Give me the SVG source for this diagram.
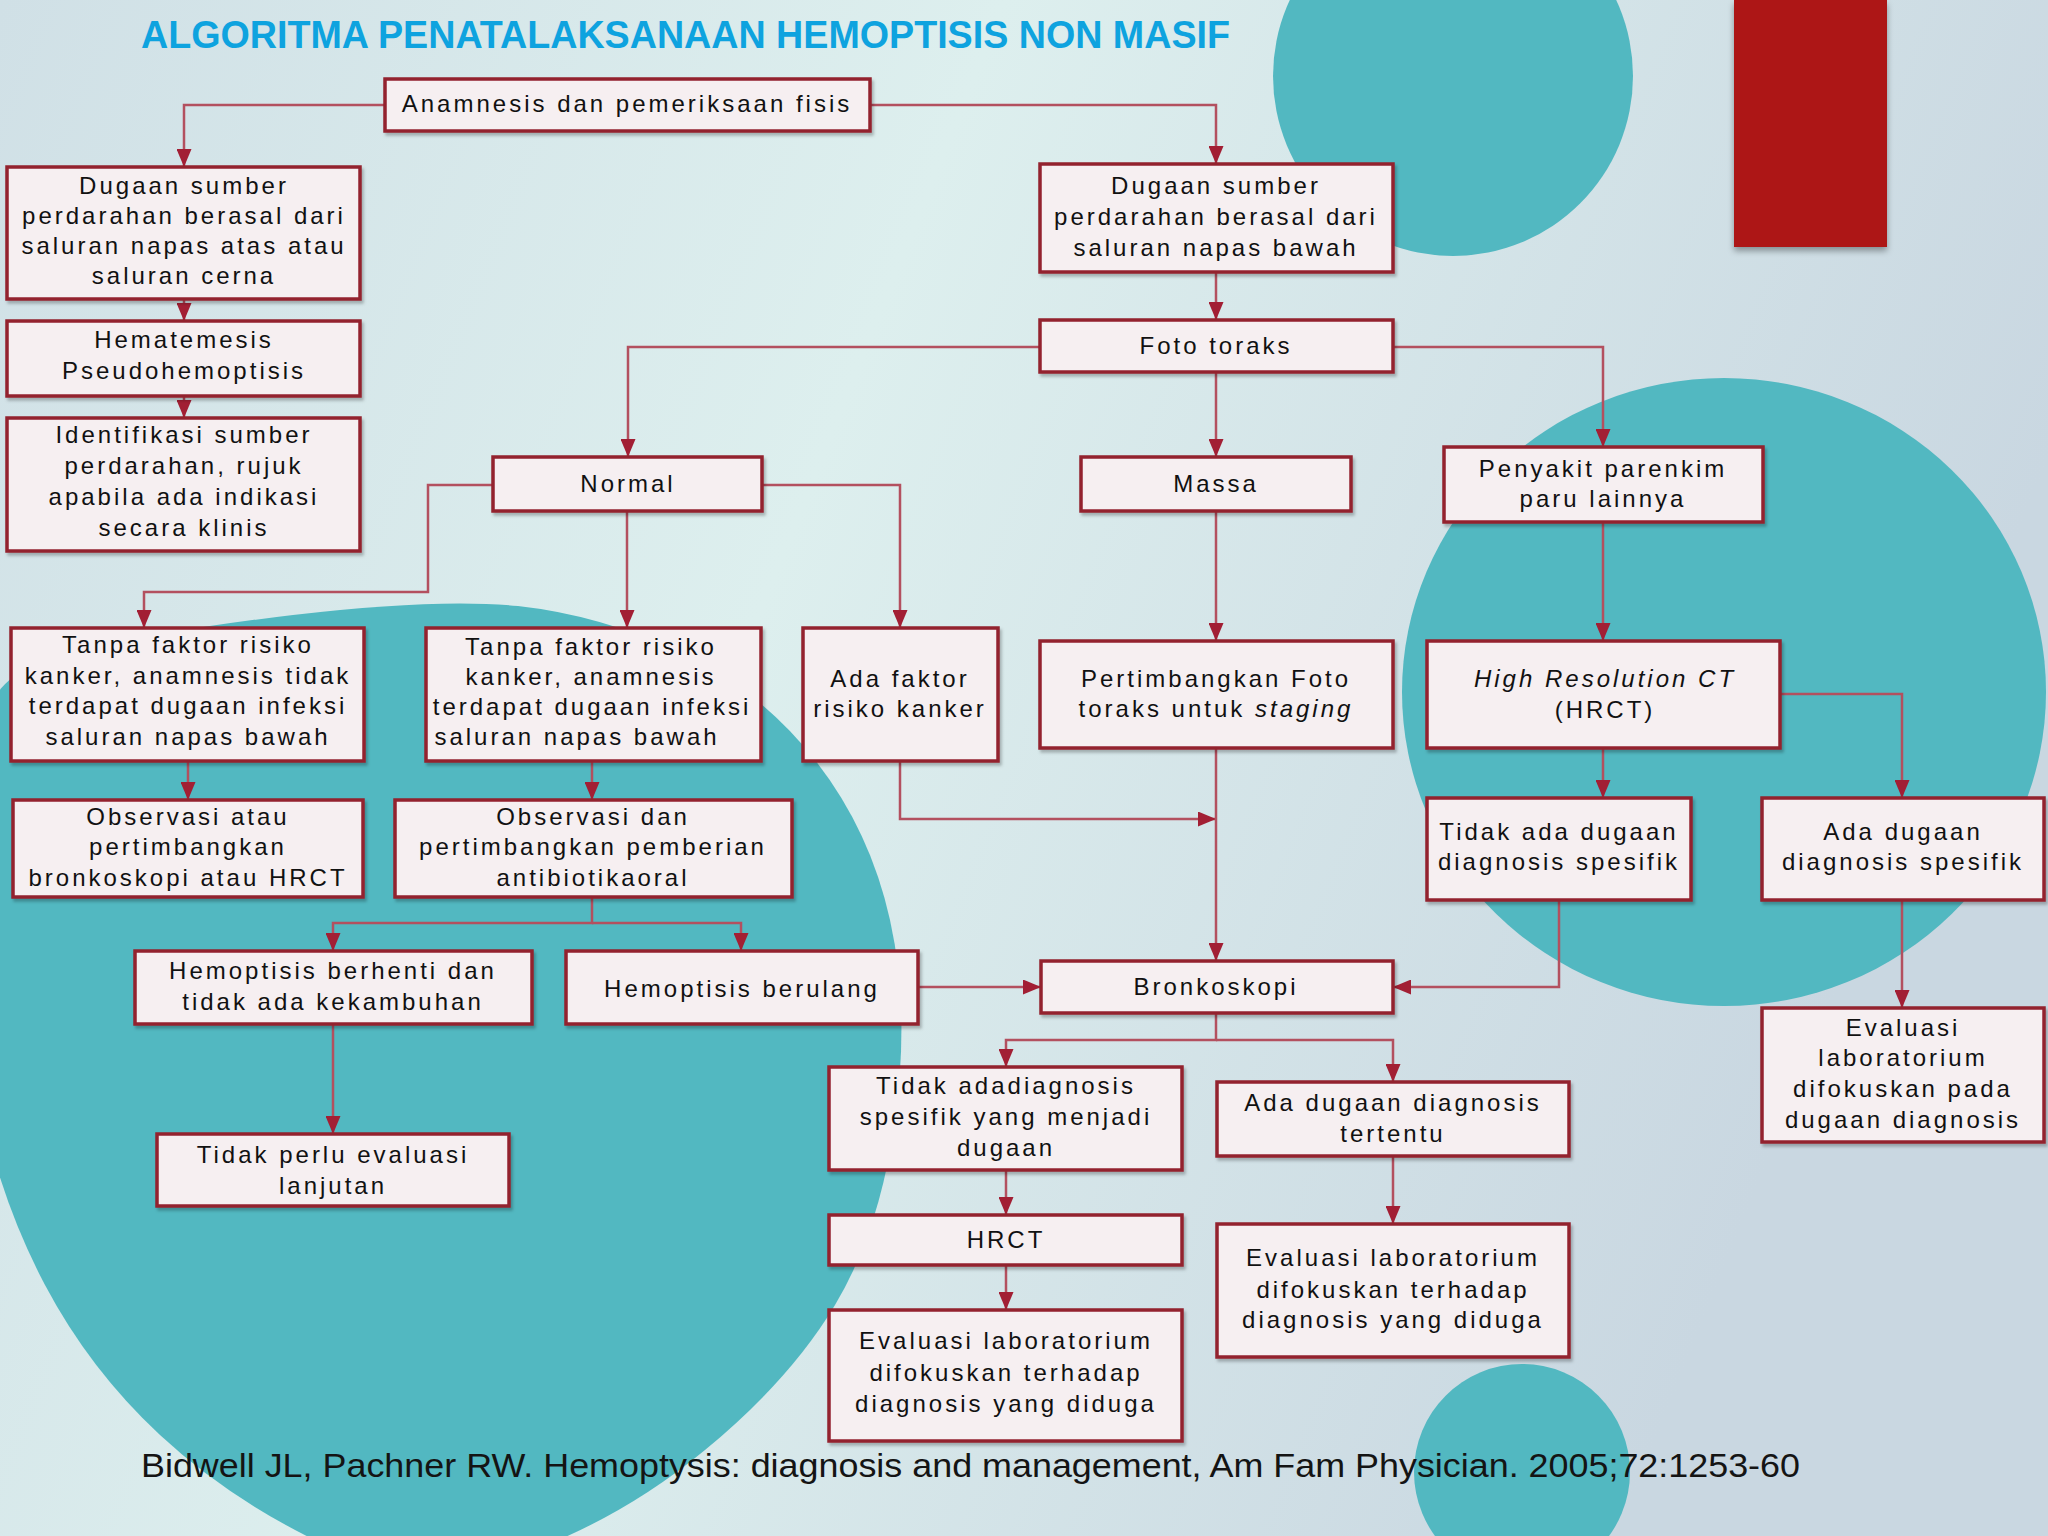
<svg xmlns="http://www.w3.org/2000/svg" width="2048" height="1536" viewBox="0 0 2048 1536">
<defs>
<linearGradient id="bg" x1="0" y1="0" x2="1" y2="0.3">
<stop offset="0" stop-color="#d0e0e6"/>
<stop offset="0.45" stop-color="#ddefee"/>
<stop offset="1" stop-color="#c9d7e1"/>
</linearGradient>
<filter id="sh" x="-5%" y="-10%" width="115%" height="130%">
<feDropShadow dx="2" dy="3" stdDeviation="1.5" flood-color="#000" flood-opacity="0.25"/>
</filter>
<filter id="sh2" x="-10%" y="-10%" width="130%" height="120%">
<feDropShadow dx="0" dy="4" stdDeviation="3" flood-color="#000" flood-opacity="0.35"/>
</filter>
<marker id="ah" viewBox="0 0 18 15" refX="18" refY="7.5" markerWidth="18" markerHeight="15" markerUnits="userSpaceOnUse" orient="auto">
<path d="M0,0 L18,7.5 L0,15 z" fill="#a21f34"/>
</marker>
<style>
.box rect{fill:#f6eff1;stroke:#93202f;stroke-width:3.5;filter:url(#sh)}
.box text{font-family:"Liberation Sans",Arial,sans-serif;font-size:24px;letter-spacing:3px;fill:#111;text-anchor:middle}
.c path{fill:none;stroke:#b3505f;stroke-width:2.5;marker-end:url(#ah)}
.c path.na{marker-end:none}
.deco{fill:#52b8c1}
</style>
</defs>
<rect x="0" y="0" width="2048" height="1536" fill="url(#bg)"/>
<g id="decor">
<circle class="deco" cx="1453" cy="76" r="180"/>
<ellipse class="deco" cx="1724" cy="692" rx="322" ry="314"/>
<circle class="deco" cx="1522" cy="1472" r="108"/>
<path class="deco" d="M55,656 Q150,632 293,615 Q437,598 518,606 Q600,615 680,652 Q760,690 815,760 Q870,830 890,920 Q910,1010 895,1120 Q880,1230 835,1305 Q790,1380 705,1450 Q620,1520 520,1555 Q420,1590 325,1545 Q230,1500 160,1435 Q90,1370 45,1285 Q0,1200 -20,1100 Q-40,1000 -40,840 Q-40,680 55,656 Z"/>
<rect x="1734" y="0" width="153" height="247" fill="#ad1414" filter="url(#sh2)"/>
</g>
<text x="141" y="48" font-family="'Liberation Sans',Arial,sans-serif" font-weight="bold" font-size="39" fill="#0ea3df" textLength="1089" lengthAdjust="spacingAndGlyphs">ALGORITMA PENATALAKSANAAN HEMOPTISIS NON MASIF</text>
<g id="connectors" class="c">
<path d="M385,105 H184 V167"/>
<path d="M870,105 H1216 V164"/>
<path d="M184,299 V321"/>
<path d="M184,396 V418"/>
<path d="M1216,272 V320"/>
<path d="M1040,347 H628 V457"/>
<path d="M1216,372 V457"/>
<path d="M1393,347 H1603 V447"/>
<path d="M493,485 H428 V592 H144 V628"/>
<path d="M627,511 V628"/>
<path d="M762,485 H900 V628"/>
<path d="M188,761 V800"/>
<path d="M592,761 V800"/>
<path d="M900,761 V819 H1216"/>
<path d="M1216,511 V641"/>
<path d="M1216,748 V961"/>
<path d="M1603,522 V641"/>
<path d="M1603,748 V798"/>
<path d="M1780,694 H1902 V798"/>
<path d="M592,897 V923 H333 V951"/>
<path d="M592,923 H741 V951"/>
<path d="M333,1024 V1134"/>
<path d="M918,987 H1041"/>
<path d="M1559,900 V987 H1393"/>
<path d="M1902,900 V1008"/>
<path d="M1216,1013 V1040 H1006 V1067"/>
<path d="M1216,1040 H1393 V1082"/>
<path d="M1006,1170 V1215"/>
<path d="M1006,1265 V1310"/>
<path d="M1393,1156 V1224"/>
</g>
<g id="n1" class="box"><rect x="385" y="79" width="485" height="52"/><text x="627" y="112">Anamnesis dan pemeriksaan fisis</text></g>
<g id="n2" class="box"><rect x="7" y="167" width="353" height="132"/><text x="184" y="194">Dugaan sumber</text><text x="184" y="224">perdarahan berasal dari</text><text x="184" y="254">saluran napas atas atau</text><text x="184" y="284">saluran cerna</text></g>
<g id="n3" class="box"><rect x="7" y="321" width="353" height="75"/><text x="184" y="348">Hematemesis</text><text x="184" y="379">Pseudohemoptisis</text></g>
<g id="n4" class="box"><rect x="7" y="418" width="353" height="133"/><text x="184" y="443">Identifikasi sumber</text><text x="184" y="474">perdarahan, rujuk</text><text x="184" y="505">apabila ada indikasi</text><text x="184" y="536">secara klinis</text></g>
<g id="n5" class="box"><rect x="1040" y="164" width="353" height="108"/><text x="1216" y="194">Dugaan sumber</text><text x="1216" y="225">perdarahan berasal dari</text><text x="1216" y="256">saluran napas bawah</text></g>
<g id="n6" class="box"><rect x="1040" y="320" width="353" height="52"/><text x="1216" y="354">Foto toraks</text></g>
<g id="n7" class="box"><rect x="493" y="457" width="269" height="54"/><text x="628" y="492">Normal</text></g>
<g id="n8" class="box"><rect x="1081" y="457" width="270" height="54"/><text x="1216" y="492">Massa</text></g>
<g id="n9" class="box"><rect x="1444" y="447" width="319" height="75"/><text x="1603" y="477">Penyakit parenkim</text><text x="1603" y="507">paru lainnya</text></g>
<g id="n10" class="box"><rect x="11" y="628" width="353" height="133"/><text x="188" y="653">Tanpa faktor risiko</text><text x="188" y="684">kanker, anamnesis tidak</text><text x="188" y="714">terdapat dugaan infeksi</text><text x="188" y="745">saluran napas bawah</text></g>
<g id="n11" class="box"><rect x="426" y="628" width="335" height="133"/><text x="591" y="655">Tanpa faktor risiko</text><text x="591" y="685">kanker, anamnesis</text><text x="592" y="715">terdapat dugaan infeksi</text><text x="577" y="745">saluran napas bawah</text></g>
<g id="n12" class="box"><rect x="803" y="628" width="195" height="133"/><text x="900" y="687">Ada faktor</text><text x="900" y="717">risiko kanker</text></g>
<g id="n13" class="box"><rect x="1040" y="641" width="353" height="107"/><text x="1216" y="687">Pertimbangkan Foto</text><text x="1216" y="717">toraks untuk <tspan font-style="italic">staging</tspan></text></g>
<g id="n14" class="box"><rect x="1427" y="641" width="353" height="107"/><text x="1605" y="687" font-style="italic">High Resolution CT</text><text x="1605" y="718">(HRCT)</text></g>
<g id="n15" class="box"><rect x="1427" y="798" width="264" height="102"/><text x="1559" y="840">Tidak ada dugaan</text><text x="1559" y="870">diagnosis spesifik</text></g>
<g id="n16" class="box"><rect x="1762" y="798" width="282" height="102"/><text x="1903" y="840">Ada dugaan</text><text x="1903" y="870">diagnosis spesifik</text></g>
<g id="n17" class="box"><rect x="13" y="800" width="350" height="97"/><text x="188" y="825">Observasi atau</text><text x="188" y="855">pertimbangkan</text><text x="188" y="886">bronkoskopi atau HRCT</text></g>
<g id="n18" class="box"><rect x="395" y="800" width="397" height="97"/><text x="593" y="825">Observasi dan</text><text x="593" y="855">pertimbangkan pemberian</text><text x="593" y="886">antibiotikaoral</text></g>
<g id="n19" class="box"><rect x="135" y="951" width="397" height="73"/><text x="333" y="979">Hemoptisis berhenti dan</text><text x="333" y="1010">tidak ada kekambuhan</text></g>
<g id="n20" class="box"><rect x="566" y="951" width="352" height="73"/><text x="742" y="997">Hemoptisis berulang</text></g>
<g id="n21" class="box"><rect x="1041" y="961" width="352" height="52"/><text x="1216" y="995">Bronkoskopi</text></g>
<g id="n22" class="box"><rect x="157" y="1134" width="352" height="72"/><text x="333" y="1163">Tidak perlu evaluasi</text><text x="333" y="1194">lanjutan</text></g>
<g id="n23" class="box"><rect x="829" y="1067" width="353" height="103"/><text x="1006" y="1094">Tidak adadiagnosis</text><text x="1006" y="1125">spesifik yang menjadi</text><text x="1006" y="1156">dugaan</text></g>
<g id="n24" class="box"><rect x="1217" y="1082" width="352" height="74"/><text x="1393" y="1111">Ada dugaan diagnosis</text><text x="1393" y="1142">tertentu</text></g>
<g id="n25" class="box"><rect x="829" y="1215" width="353" height="50"/><text x="1006" y="1248">HRCT</text></g>
<g id="n26" class="box"><rect x="829" y="1310" width="353" height="131"/><text x="1006" y="1349">Evaluasi laboratorium</text><text x="1006" y="1381">difokuskan terhadap</text><text x="1006" y="1412">diagnosis yang diduga</text></g>
<g id="n27" class="box"><rect x="1217" y="1224" width="352" height="133"/><text x="1393" y="1266">Evaluasi laboratorium</text><text x="1393" y="1298">difokuskan terhadap</text><text x="1393" y="1328">diagnosis yang diduga</text></g>
<g id="n28" class="box"><rect x="1762" y="1008" width="282" height="134"/><text x="1903" y="1036">Evaluasi</text><text x="1903" y="1066">laboratorium</text><text x="1903" y="1097">difokuskan pada</text><text x="1903" y="1128">dugaan diagnosis</text></g>
<text x="141" y="1477" font-family="'Liberation Sans',Arial,sans-serif" font-size="34" fill="#141414" textLength="1659" lengthAdjust="spacingAndGlyphs">Bidwell JL, Pachner RW. Hemoptysis: diagnosis and management, Am Fam Physician. 2005;72:1253-60</text>
</svg>
